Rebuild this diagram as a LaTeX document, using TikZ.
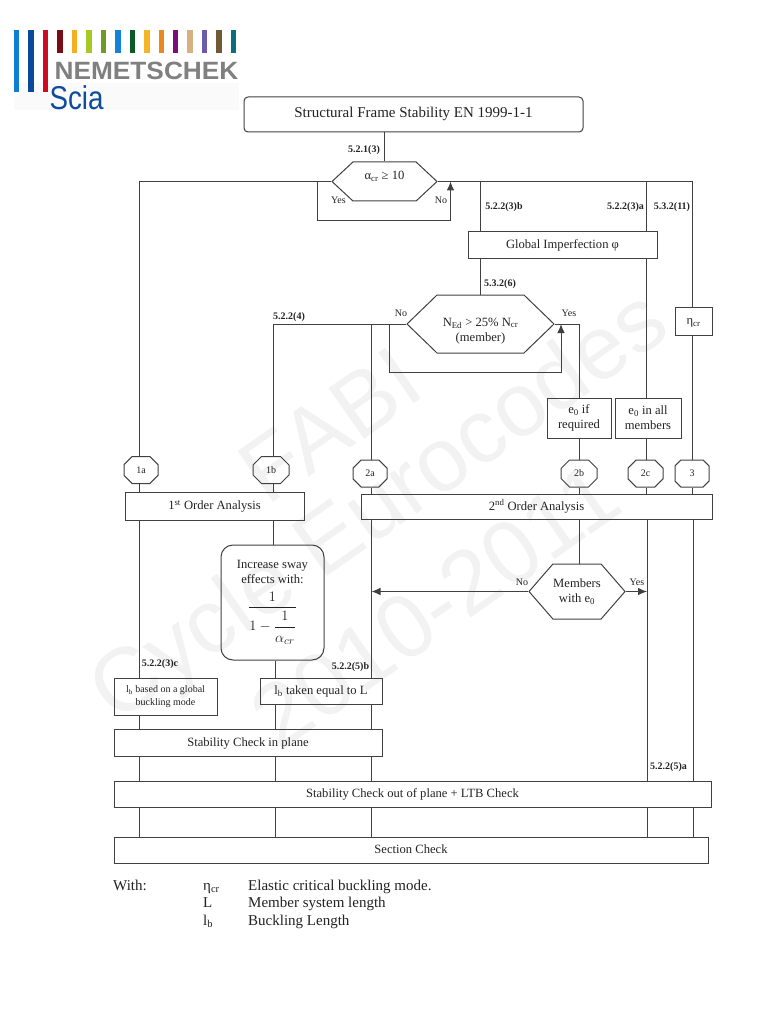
\documentclass[tikz,border=0pt]{standalone}
\usepackage{fontspec}
\setmainfont{Liberation Serif}
\newfontfamily\logofont{Liberation Sans}
\usetikzlibrary{arrows.meta,shapes.misc,shapes.symbols}

\definecolor{linegrey}{HTML}{404040}
\definecolor{textgrey}{HTML}{222222}
\definecolor{marklight}{HTML}{F2F2F2}
\definecolor{logogrey}{HTML}{808080}
\definecolor{logoblue}{HTML}{0F4C9C}
\definecolor{logoa}{HTML}{0F7FD2}
\definecolor{logob}{HTML}{0B4A9A}
\definecolor{logoc}{HTML}{CF0A22}
\definecolor{logod}{HTML}{7A0C18}
\definecolor{logoe}{HTML}{F5B021}
\definecolor{logof}{HTML}{A8C825}
\definecolor{logog}{HTML}{6F9A28}
\definecolor{logoh}{HTML}{1283D8}
\definecolor{logoi}{HTML}{0B5A24}
\definecolor{logoj}{HTML}{F4B526}
\definecolor{logok}{HTML}{EA8A1E}
\definecolor{logol}{HTML}{7D0C78}
\definecolor{logom}{HTML}{D6B282}
\definecolor{logon}{HTML}{6A5AA8}
\definecolor{logoo}{HTML}{6F5A36}
\definecolor{logop}{HTML}{0B6E78}

\newcommand{\sizebig}{\fontsize{15}{17}\selectfont}
\newcommand{\sizemid}{\fontsize{12.6}{15}\selectfont}
\newcommand{\sizesmall}{\fontsize{10}{12.5}\selectfont}
\newcommand{\sizeref}{\fontsize{10}{12}\selectfont\bfseries}

\tikzset{
  framebox/.style={draw=linegrey,line width=1pt,text=textgrey,align=center,inner sep=0pt,font=\sizemid},
  linebox/.style={framebox,text height=8.5pt,text depth=1.5pt},
  hexbox/.style={framebox,signal,signal to=east and west},
  octbox/.style={framebox,chamfered rectangle,chamfered rectangle sep=6pt,font=\sizesmall,minimum height=27pt},
  reflabel/.style={text=textgrey,inner sep=0pt,font=\sizeref},
  flaglabel/.style={text=textgrey,inner sep=0pt,font=\sizesmall},
  legendtext/.style={text=textgrey,inner sep=0pt,anchor=west,text height=10pt,text depth=3pt,font=\fontsize{15}{17}\selectfont},
  wire/.style={draw=linegrey,line width=1pt},
  arrowwire/.style={wire,-{Latex[length=9pt,width=7.5pt]}},
  markword/.style={text=marklight,rotate=35,font=\logofont\fontsize{90}{100}\selectfont}
}

\begin{document}
\begin{tikzpicture}[x=1pt,y=-1pt]

\useasboundingbox (0,0) rectangle (768,1024);

% watermark
\node (markfabi) [markword] at (330,425) {FABI};
\node (markcycle) [markword] at (382,510) {Cycle Eurocodes};
\node (markyear) [markword] at (435,606) {2010-2011};

% logo
\fill[black!2] (14,83) rectangle (239,110);
\fill[logoa] (14,30) rectangle (19.3,92);
\fill[logob] (28.3,30) rectangle (33.6,92);
\fill[logoc] (43,30) rectangle (48.3,92);
\fill[logod] (57.3,30) rectangle (62.6,53);
\fill[logoe] (72,30) rectangle (77.3,53);
\fill[logof] (86.3,30) rectangle (91.6,53);
\fill[logog] (101,30) rectangle (106.3,53);
\fill[logoh] (115.3,30) rectangle (120.6,53);
\fill[logoi] (129.7,30) rectangle (135,53);
\fill[logoj] (144.3,30) rectangle (149.6,53);
\fill[logok] (158.7,30) rectangle (164,53);
\fill[logol] (173,30) rectangle (178.3,53);
\fill[logom] (187.3,30) rectangle (192.6,53);
\fill[logon] (202,30) rectangle (207.3,53);
\fill[logoo] (216.3,30) rectangle (221.6,53);
\fill[logop] (230.7,30) rectangle (236,53);
\node (lognem) [text=logogrey,inner sep=0pt,xscale=1.05,font=\logofont\bfseries\fontsize{25}{28}\selectfont] at (146.5,70.5) {NEMETSCHEK};
\node (logscia) [text=logoblue,inner sep=0pt,xscale=.84,font=\logofont\fontsize{33}{35}\selectfont] at (76.5,98) {Scia};

% boxes
\node (title) [linebox,rounded corners=4pt,font=\sizebig,minimum width=339pt,minimum height=35pt] at (413.5,114.5) {Structural Frame Stability EN 1999-1-1};
\node (hexalpha) [hexbox,signal pointer angle=86,text height=8.5pt,text depth=11.5pt,minimum width=105pt,minimum height=39pt] at (384.5,181.5) {α\textsubscript{cr} ≥ 10};
\node (imperf) [linebox,minimum width=189pt,minimum height=26pt] at (562.5,245) {Global Imperfection φ};
\node (hexned) [hexbox,signal pointer angle=88,minimum width=147pt,minimum height=58pt] at (480.5,324) {\rule{0pt}{22pt}N\textsubscript{Ed} > 25\% N\textsubscript{cr}\\(member)};
\node (etabox) [linebox,minimum width=37pt,minimum height=28pt] at (693.5,321) {η\textsubscript{cr}};
\node (reqbox) [framebox,minimum width=64pt,minimum height=40pt] at (579,418) {e\textsubscript{0} if\\required};
\node (allbox) [framebox,minimum width=66pt,minimum height=40pt] at (648,418) {e\textsubscript{0} in all\\members};

\node (octa) [octbox,minimum width=34pt] at (141,470) {1a};
\node (octb) [octbox,minimum width=36pt] at (271,470) {1b};
\node (octc) [octbox,minimum width=34pt] at (370,473.5) {2a};
\node (octd) [octbox,minimum width=36pt] at (579,473.5) {2b};
\node (octe) [octbox,minimum width=35pt] at (645.5,473.5) {2c};
\node (octf) [octbox,minimum width=34pt] at (692,473.5) {3};

\node (boxfirst) [linebox,minimum width=179pt,minimum height=28pt] at (214.5,506) {1\textsuperscript{st} Order Analysis};
\node (boxsecond) [linebox,minimum width=351pt,minimum height=25pt] at (536.5,506.5) {2\textsuperscript{nd} Order Analysis};
\node (sway) [framebox,rounded corners=12pt,minimum width=103pt,minimum height=115pt] at (272.5,602.5) {Increase sway\\effects with:\\[7pt]\fontsize{15}{17}\selectfont$\displaystyle\frac{1}{1-\displaystyle\frac{\rule{0pt}{12pt}1}{\rule{0pt}{14pt}\alpha_{cr}}}$};
\node (hexmembers) [hexbox,signal pointer angle=98,minimum width=96pt,minimum height=55pt] at (577,591.5) {Members\\with e\textsubscript{0}};
\node (lbglobal) [framebox,font=\sizesmall,minimum width=103pt,minimum height=37pt] at (165.5,696.5) {l\textsubscript{b} based on a global\\buckling mode};
\node (lbequal) [linebox,minimum width=122pt,minimum height=26pt] at (321,691) {l\textsubscript{b} taken equal to L};
\node (planecheck) [linebox,minimum width=268pt,minimum height=27pt] at (248,742.5) {Stability Check in plane};
\node (ltbcheck) [linebox,minimum width=597pt,minimum height=26pt] at (412.5,794) {Stability Check out of plane + LTB Check};
\node (sectioncheck) [linebox,minimum width=594pt,minimum height=26pt] at (411,850) {Section Check};

% columns and corners
\coordinate (xa) at (139,0);
\coordinate (xb) at (273,0);
\coordinate (xbb) at (275,0);
\coordinate (xc) at (371,0);
\coordinate (xi) at (480,0);
\coordinate (xd) at (579,0);
\coordinate (xe) at (646,0);
\coordinate (xee) at (647,0);
\coordinate (xf) at (692,0);
\coordinate (xff) at (693,0);
\coordinate (cornera) at (139,181.5);
\coordinate (cornerf) at (692,181.5);
\coordinate (loopa) at (317,181.5);
\coordinate (loopb) at (317,221);
\coordinate (loopc) at (450.5,221);
\coordinate (loopd) at (450.5,181.5);
\coordinate (cornerb) at (273,324);
\coordinate (cornerd) at (579,324);
\coordinate (loope) at (389,324);
\coordinate (loopf) at (389,372);
\coordinate (loopg) at (561,372);
\coordinate (looph) at (561,324);
\coordinate (membersno) at (371.5,591.5);
\coordinate (membersyes) at (647,591.5);

% connectors
\draw[wire] (hexalpha.north |- title.south) -- (hexalpha.north);
\draw[wire] (hexalpha.west) -- (cornera) -- (octa.north -| xa);
\draw[wire] (hexalpha.east) -- (cornerf) -- (etabox.north -| xf);
\draw[arrowwire] (loopa) -- (loopb) -- (loopc) -- (loopd);
\draw[wire] (hexalpha.east -| xi) -- (imperf.north -| xi);
\draw[wire] (hexalpha.east -| xe) -- (imperf.north -| xe);
\draw[wire] (imperf.south -| xi) -- (hexned.north -| xi);
\draw[wire] (imperf.south -| xe) -- (allbox.north -| xe);
\draw[wire] (hexned.west) -- (cornerb) -- (octb.north -| xb);
\draw[wire] (hexned.west -| xc) -- (octc.north -| xc);
\draw[arrowwire] (loope) -- (loopf) -- (loopg) -- (looph);
\draw[wire] (hexned.east) -- (cornerd) -- (reqbox.north -| xd);
\draw[wire] (etabox.south -| xf) -- (octf.north -| xf);
\draw[wire] (reqbox.south -| xd) -- (octd.north -| xd);
\draw[wire] (allbox.south -| xe) -- (octe.north -| xe);

\draw[wire] (octa.south -| xa) -- (boxfirst.north -| xa);
\draw[wire] (octb.south -| xb) -- (boxfirst.north -| xb);
\draw[wire] (octc.south -| xc) -- (boxsecond.north -| xc);
\draw[wire] (octd.south -| xd) -- (boxsecond.north -| xd);
\draw[wire] (octe.south -| xe) -- (boxsecond.north -| xe);
\draw[wire] (octf.south -| xf) -- (boxsecond.north -| xf);

\draw[wire] (boxfirst.south -| xa) -- (lbglobal.north -| xa);
\draw[wire] (boxfirst.south -| xb) -- (sway.north -| xb);
\draw[wire] (boxsecond.south -| xc) -- (lbequal.north -| xc);
\draw[wire] (boxsecond.south -| xd) -- (hexmembers.north -| xd);
\draw[wire] (boxsecond.south -| xee) -- (ltbcheck.north -| xee);
\draw[wire] (boxsecond.south -| xff) -- (ltbcheck.north -| xff);
\draw[arrowwire] (hexmembers.west) -- (membersno);
\draw[arrowwire] (hexmembers.east) -- (membersyes);

\draw[wire] (sway.south -| xbb) -- (lbequal.north -| xbb);
\draw[wire] (lbglobal.south -| xa) -- (planecheck.north -| xa);
\draw[wire] (lbequal.south -| xbb) -- (planecheck.north -| xbb);
\draw[wire] (lbequal.south -| xc) -- (planecheck.north -| xc);
\draw[wire] (planecheck.south -| xa) -- (ltbcheck.north -| xa);
\draw[wire] (planecheck.south -| xbb) -- (ltbcheck.north -| xbb);
\draw[wire] (planecheck.south -| xc) -- (ltbcheck.north -| xc);
\draw[wire] (ltbcheck.south -| xa) -- (sectioncheck.north -| xa);
\draw[wire] (ltbcheck.south -| xbb) -- (sectioncheck.north -| xbb);
\draw[wire] (ltbcheck.south -| xc) -- (sectioncheck.north -| xc);
\draw[wire] (ltbcheck.south -| xee) -- (sectioncheck.north -| xee);
\draw[wire] (ltbcheck.south -| xff) -- (sectioncheck.north -| xff);

% labels
\node (refa) [reflabel] at (364,150) {5.2.1(3)};
\node (refb) [reflabel] at (504,207) {5.2.2(3)b};
\node (refc) [reflabel] at (625.5,207) {5.2.2(3)a};
\node (refd) [reflabel] at (672,207) {5.3.2(11)};
\node (refe) [reflabel] at (500,284) {5.3.2(6)};
\node (reff) [reflabel] at (289,317) {5.2.2(4)};
\node (refg) [reflabel] at (160,664) {5.2.2(3)c};
\node (refh) [reflabel] at (350.5,667) {5.2.2(5)b};
\node (refi) [reflabel] at (668.5,767) {5.2.2(5)a};

\node (flagyesa) [flaglabel] at (338.5,200) {Yes};
\node (flagnoa) [flaglabel] at (441,200) {No};
\node (flagnob) [flaglabel] at (401,313) {No};
\node (flagyesb) [flaglabel] at (569,313) {Yes};
\node (flagnoc) [flaglabel] at (522,582) {No};
\node (flagyesc) [flaglabel] at (637,582) {Yes};

% legend
\node (legwith) [legendtext] at (113,886.5) {With:};
\node (legsyma) [legendtext] at (203,886.5) {η\textsubscript{cr}};
\node (legsymb) [legendtext] at (203,903.5) {L};
\node (legsymc) [legendtext] at (203,921.5) {l\textsubscript{b}};
\node (legtexta) [legendtext] at (248,886.5) {Elastic critical buckling mode.};
\node (legtextb) [legendtext] at (248,903.5) {Member system length};
\node (legtextc) [legendtext] at (248,921.5) {Buckling Length};

\end{tikzpicture}
\end{document}
